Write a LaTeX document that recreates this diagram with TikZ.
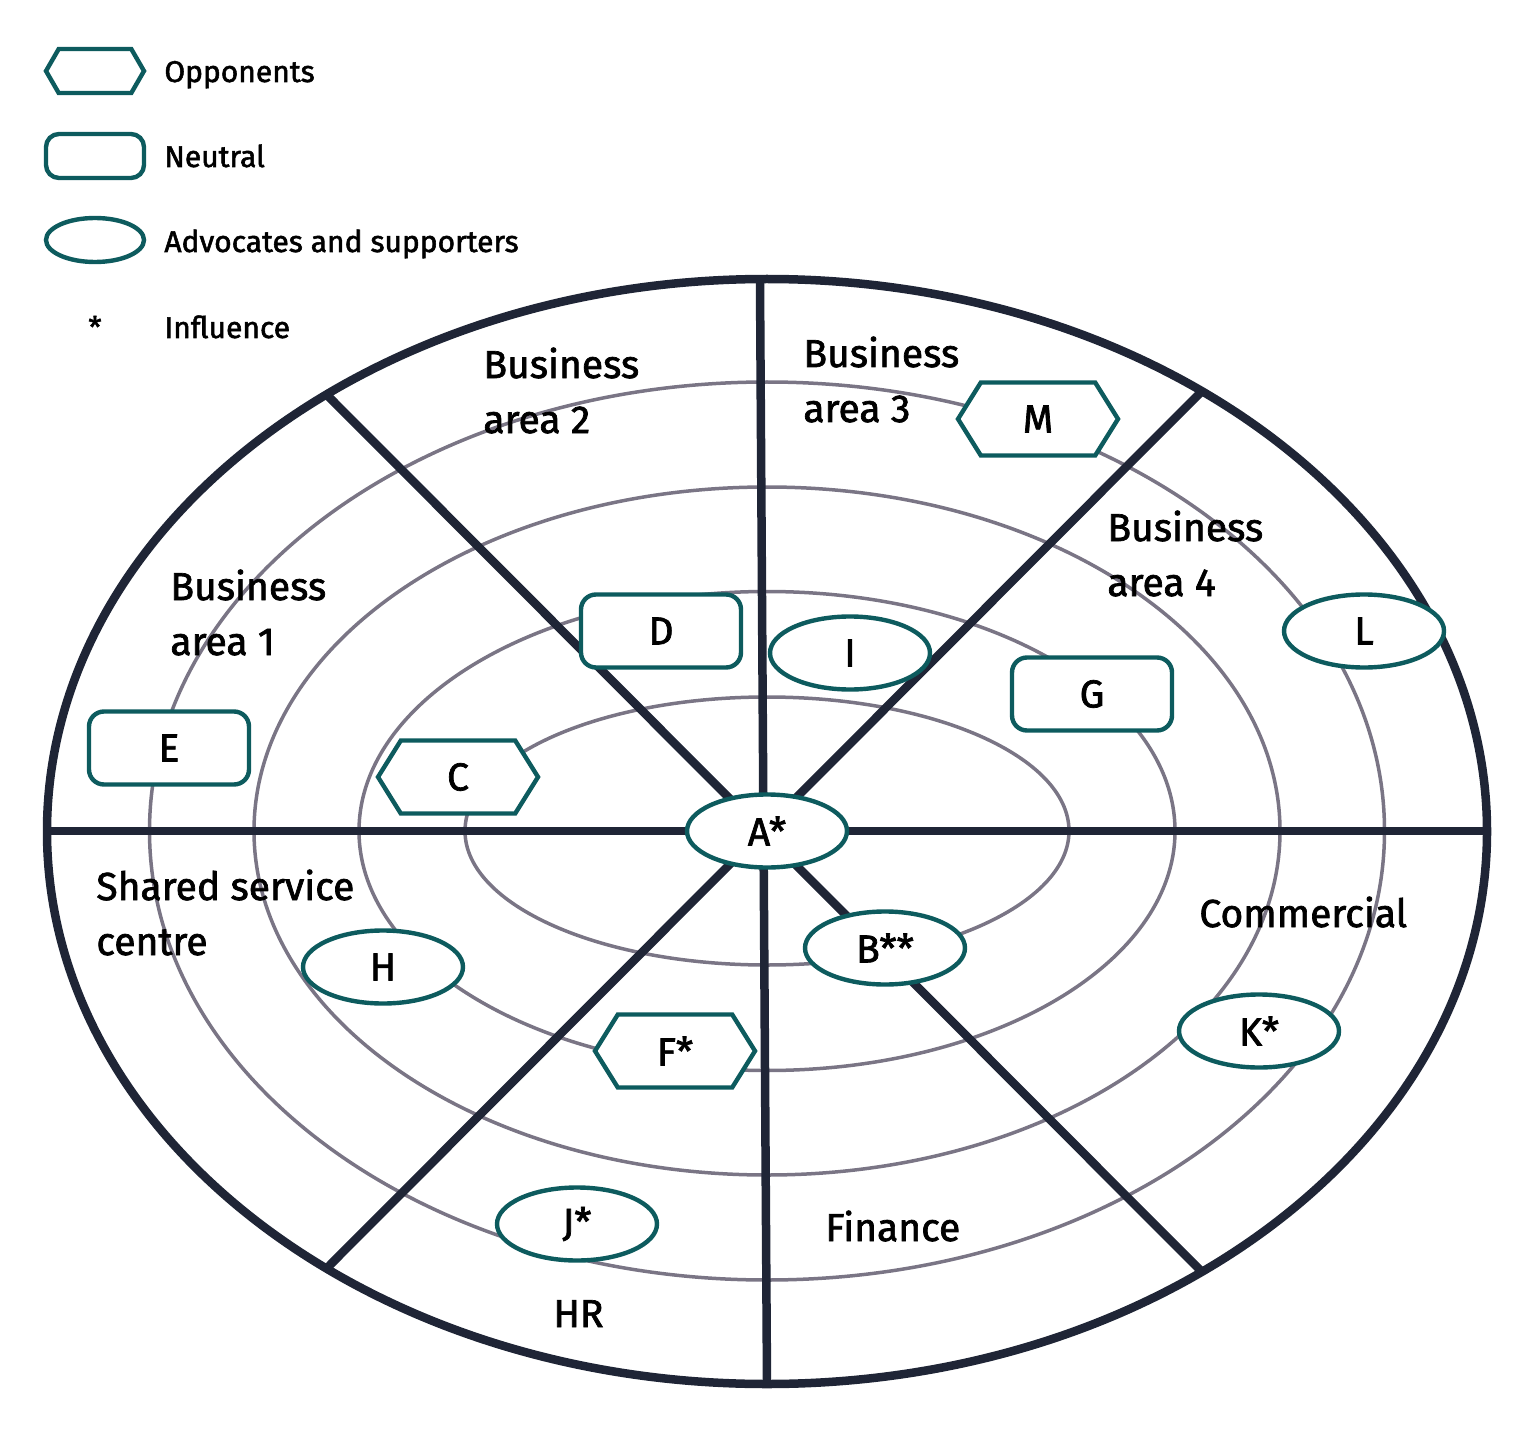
\documentclass[tikz,border=0pt]{standalone}
\usepackage{fontspec}
\setmainfont{Fira Sans}[FakeBold=1.8]
\usetikzlibrary{shapes.geometric,shapes.symbols}
\definecolor{tealA}{HTML}{0D5B5E}
\definecolor{navyA}{HTML}{1F2536}
\definecolor{ringA}{HTML}{7A7585}
\begin{document}
\begin{tikzpicture}[x=0.5pt,y=-0.5pt,
  stake/.style={draw=tealA, line width=2.2pt, fill=white, minimum width=80pt, minimum height=36.5pt, inner sep=0pt, text=black, font=\fontsize{19.5}{23}\selectfont},
  advo/.style={stake, ellipse},
  neut/.style={stake, rectangle, rounded corners=7.5pt},
  oppo/.style={stake, signal, signal to=west and east, signal pointer angle=116},
  legshape/.style={minimum width=49pt, minimum height=22pt},
  legtext/.style={anchor=base west, inner sep=0pt, font=\fontsize{15}{18}\selectfont},
  region/.style={anchor=base west, inner sep=0pt, align=left, font=\fontsize{19.5}{27.5}\selectfont},
  ringline/.style={draw=ringA, line width=1.75pt},
  divider/.style={draw=navyA, line width=4.25pt},
]
\useasboundingbox (0,0) rectangle (1536,1449);

% rings
\coordinate (O) at (767,831);
\draw[ringline] (O) ellipse [x radius=302, y radius=134];
\draw[ringline] (O) ellipse [x radius=408, y radius=239.5];
\draw[ringline] (O) ellipse [x radius=513, y radius=344];
\draw[ringline] (O) ellipse [x radius=617.5, y radius=449];

% dividers
\coordinate (nN) at (760,283);
\coordinate (nS) at (767,1384);
\coordinate (nW) at (47,831);
\coordinate (nE) at (1487,831);
\coordinate (nNW) at (328,396);
\coordinate (nSE) at (1200,1270);
\coordinate (nNE) at (1200,393);
\coordinate (nSW) at (328,1267);
\draw[divider] (nN) -- (nS);
\draw[divider] (nW) -- (nE);
\draw[divider] (nNW) -- (nSE);
\draw[divider] (nNE) -- (nSW);
\draw[divider] (767,831.5) ellipse [x radius=720, y radius=552.5];

% region labels (base = last line)
\node[region] (ba1) at (170,655) {Business\\area 1};
\node[region] (ba2) at (483,433) {Business\\area 2};
\node[region] (ba3) at (803,422) {Business\\area 3};
\node[region] (ba4) at (1107,596) {Business\\area 4};
\node[region] (ssc) at (96,955) {Shared service\\centre};
\node[region] (com) at (1199,927) {Commercial};
\node[region] (fin) at (825,1241) {Finance};
\node[region] (hr) at (553,1327) {HR};

% stakeholders
\node[advo] (A) at (767,831) {A*};
\node[advo] (B) at (885,948) {B**};
\node[oppo] (C) at (458,777) {C};
\node[neut] (D) at (661,631) {D};
\node[neut] (E) at (169,748) {E};
\node[oppo] (F) at (675,1051) {F*};
\node[neut] (G) at (1092,694) {G};
\node[advo] (H) at (383,967) {H};
\node[advo] (I) at (850,653) {I};
\node[advo] (J) at (577,1224) {J*};
\node[advo] (K) at (1259,1031) {K*};
\node[advo] (L) at (1364,631) {L};
\node[oppo] (M) at (1038,419) {M};

% legend
\node[oppo, legshape, signal pointer angle=120] (leg1) at (95,71) {};
\node[neut, legshape, rounded corners=6.5pt] (leg2) at (95,156) {};
\node[advo, legshape] (leg3) at (95,240) {};
\node[legtext, anchor=base] (leg4) at (95,338) {*};
\node[legtext] (t1) at (164,82) {Opponents};
\node[legtext] (t2) at (164,167) {Neutral};
\node[legtext] (t3) at (164,252) {Advocates and supporters};
\node[legtext] (t4) at (164,338) {Influence};
\end{tikzpicture}
\end{document}
